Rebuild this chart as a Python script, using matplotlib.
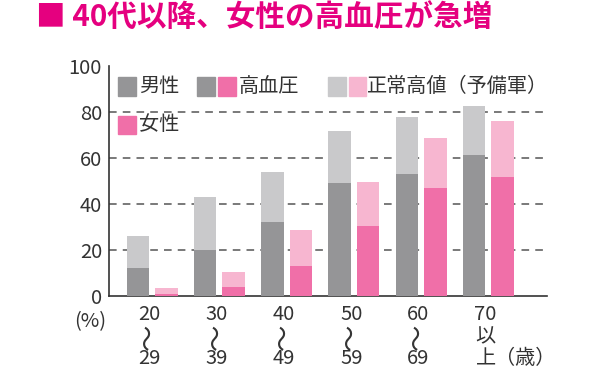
import matplotlib
matplotlib.use("Agg")
import matplotlib.pyplot as plt
from matplotlib.patches import Rectangle
import numpy as np

plt.rcParams['font.family'] = ['Noto Sans CJK JP', 'DejaVu Sans']

# ---- data ----
age_top = ["20", "30", "40", "50", "60", "70"]
age_mid = ["〜", "〜", "〜", "〜", "〜", "以"]
age_bottom = ["29", "39", "49", "59", "69", "上"]
male_hyper = [12, 20, 32, 49, 53, 61]
male_total = [26, 43, 54, 71.5, 77.5, 82.5]
female_hyper = [1, 4, 13, 30.5, 47, 51.5]
female_total = [3.5, 10.5, 28.5, 49.5, 68.5, 76]
yticks = [0, 20, 40, 60, 80, 100]

male_pre = [t - h for t, h in zip(male_total, male_hyper)]
female_pre = [t - h for t, h in zip(female_total, female_hyper)]

C_MD = "#959597"
C_ML = "#c9c9cb"
C_FD = "#f06fa8"
C_FL = "#f7b6d0"
TITLE_C = "#e5007f"
TXT = "#333333"

W, H = 605, 370
fig = plt.figure(figsize=(W / 100, H / 100), dpi=100)

def fx(x):
    return x / W

def fy(y):
    return 1 - y / H

ax = fig.add_axes([fx(109), fy(296), (547 - 109) / W, (296 - 65.5) / H])

x = np.arange(len(age_top))
off = 0.212
bw = 0.335
ax.bar(x - off, male_hyper, bw, color=C_MD, zorder=3)
ax.bar(x - off, male_pre, bw, bottom=male_hyper, color=C_ML, zorder=3)
ax.bar(x + off, female_hyper, bw, color=C_FD, zorder=3)
ax.bar(x + off, female_pre, bw, bottom=female_hyper, color=C_FL, zorder=3)

ax.set_xlim(-0.644, 5.874)
ax.set_ylim(0, 100)
ax.set_yticks(yticks)
ax.set_yticklabels([str(v) for v in yticks], fontsize=14.5, color=TXT)
ax.set_xticks(x - 0.04)
ax.set_xticklabels(age_top, fontsize=14.5, color=TXT)
ax.tick_params(axis='both', length=0)
ax.tick_params(axis='y', pad=5)
ax.tick_params(axis='x', pad=6)

trans = matplotlib.transforms.blended_transform_factory(ax.transData, ax.transAxes)
for i, (m, b) in enumerate(zip(age_mid, age_bottom)):
    if m == "〜":
        ax.text(i - 0.04, -0.178, m, transform=trans, ha='center', va='center',
                fontsize=19, color=TXT, rotation=90)
    else:
        ax.text(i - 0.04, -0.178, m, transform=trans, ha='center', va='center',
                fontsize=14.5, color=TXT)
    ax.text(i - 0.04, -0.272, b, transform=trans, ha='center', va='center',
            fontsize=14.5, color=TXT)

for v in yticks[1:-1]:
    ax.axhline(v, color="#555555", lw=1.1, ls=(0, (5, 4)), zorder=1)

for s in ['top', 'right']:
    ax.spines[s].set_visible(False)
for s in ['left', 'bottom']:
    ax.spines[s].set_color(TXT)
    ax.spines[s].set_linewidth(1.2)

# unit labels
ax.text(-0.043, -0.11, "(%)", transform=ax.transAxes, ha='center', va='center',
        fontsize=14.5, color=TXT)
ax.text(5.10, -0.272, "（歳）", transform=trans, ha='left', va='center',
        fontsize=14.5, color=TXT)

# title
fig.text(fx(36), fy(17), "■ 40代以降、女性の高血圧が急増", fontsize=21.3,
         fontweight='bold', color=TITLE_C, ha='left', va='center')

# legend (manual)
def swatch(x0, y0, x1, y1, c):
    fig.patches.append(Rectangle((fx(x0), fy(y1)), (x1 - x0) / W, (y1 - y0) / H,
                                 transform=fig.transFigure, color=c, zorder=5))

LFS = 14.5
swatch(118, 77, 136, 96, C_MD)
fig.text(fx(139), fy(86.5), "男性", fontsize=LFS, color=TXT, va='center', ha='left')
swatch(197, 77, 215, 96, C_MD)
swatch(218, 77, 236, 96, C_FD)
fig.text(fx(239), fy(86.5), "高血圧", fontsize=LFS, color=TXT, va='center', ha='left')
swatch(328, 77, 346, 96, C_ML)
swatch(349, 77, 366, 96, C_FL)
fig.text(fx(367), fy(86.5), "正常高値（予備軍）", fontsize=LFS, color=TXT, va='center', ha='left')
swatch(118, 116, 136, 134, C_FD)
fig.text(fx(139), fy(125), "女性", fontsize=LFS, color=TXT, va='center', ha='left')

fig.savefig("out.png", dpi=100)
